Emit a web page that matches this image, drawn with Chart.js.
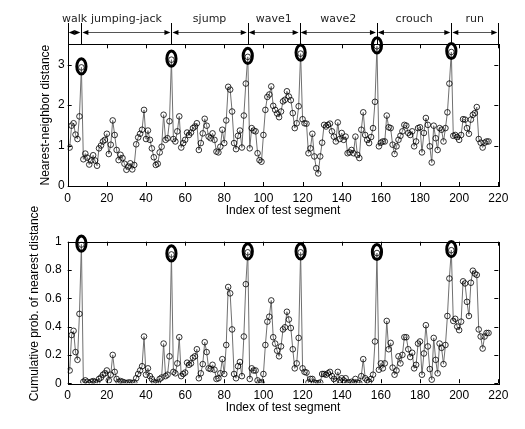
<!DOCTYPE html>
<html>
<head>
<meta charset="utf-8">
<script src="https://cdn.jsdelivr.net/npm/chart.js@4/dist/chart.umd.min.js"></script>
<style>
  body { margin: 0; background: #fff; }
  #wrap { position: relative; width: 525px; height: 429px; overflow: hidden; }
  canvas { position: absolute; left: 0; }
  #topChart { top: 0; }
  #bottomChart { top: 200px; }
</style>
</head>
<body>
<div id="wrap">
  <canvas id="topChart" width="525" height="222"></canvas>
  <canvas id="bottomChart" width="525" height="229"></canvas>
</div>
<script>
// ----- data (index 1..215) -----
const nnDist = [
  0.95, 1.49, 1.55, 1.27, 1.16, 1.72, 2.93, 0.66, 0.80, 0.70,
  0.53, 0.63, 0.76, 0.63, 0.50, 0.93, 1.00, 1.10, 1.14, 1.29,
  0.79, 1.02, 1.62, 1.26, 0.89, 0.64, 0.77, 0.69, 0.55, 0.40,
  0.48, 0.56, 0.41, 0.52, 1.03, 1.20, 1.29, 1.39, 1.88, 1.16,
  1.37, 1.14, 0.93, 0.71, 0.52, 0.55, 0.83, 0.97, 1.76, 1.14,
  1.18, 1.60, 3.12, 1.16, 1.10, 1.35, 1.72, 0.95, 1.06, 1.14,
  1.32, 1.26, 1.32, 1.43, 1.47, 1.55, 0.89, 1.06, 1.30, 1.66,
  1.49, 1.22, 1.18, 1.30, 1.14, 0.85, 0.83, 0.97, 1.39, 1.06,
  1.62, 2.45, 2.38, 1.84, 1.06, 0.91, 1.24, 1.37, 0.95, 1.74,
  2.53, 3.19, 0.93, 1.43, 1.37, 1.35, 0.81, 0.64, 0.60, 1.26,
  1.88, 2.20, 2.26, 2.46, 1.98, 1.88, 1.79, 1.70, 1.84, 2.09,
  2.13, 2.34, 2.21, 2.12, 1.80, 1.43, 1.55, 1.97, 3.27, 1.65,
  1.55, 1.54, 0.81, 0.93, 1.29, 0.73, 0.44, 0.31, 0.73, 1.07,
  1.51, 1.47, 1.51, 1.54, 1.35, 1.22, 1.10, 1.57, 1.16, 1.31,
  1.14, 1.22, 0.81, 0.83, 0.89, 0.81, 1.22, 0.77, 0.69, 1.39,
  1.82, 1.26, 1.14, 1.06, 1.21, 1.43, 2.08, 3.45, 0.98, 1.07,
  1.10, 1.10, 1.74, 1.45, 1.43, 1.02, 0.79, 0.98, 1.14, 1.24,
  1.35, 1.51, 1.49, 1.31, 1.26, 1.35, 0.98, 1.10, 1.43, 1.45,
  0.83, 1.31, 1.68, 1.51, 0.98, 0.58, 1.49, 1.18, 0.89, 1.43,
  1.39, 1.10, 1.43, 1.82, 2.53, 3.31, 1.24, 1.26, 1.21, 1.14,
  1.26, 1.65, 1.64, 1.43, 1.29, 1.64, 1.76, 1.80, 1.95, 1.16,
  1.07, 0.95, 1.07, 1.10, 1.10
];

const cumProb = [
  0.09, 0.34, 0.37, 0.22, 0.165, 0.49, 0.98, 0.01, 0.02, 0.01,
  0.0, 0.01, 0.015, 0.01, 0.005, 0.03, 0.04, 0.06, 0.07, 0.09,
  0.02, 0.06, 0.20, 0.08, 0.03, 0.01, 0.015, 0.01, 0.005, 0.0,
  0.005, 0.005, 0.0, 0.005, 0.035, 0.065, 0.09, 0.12, 0.33, 0.06,
  0.105, 0.05, 0.03, 0.01, 0.0, 0.005, 0.03, 0.04, 0.28, 0.05,
  0.06, 0.19, 0.91, 0.08, 0.07, 0.14, 0.325, 0.05, 0.065, 0.075,
  0.145, 0.13, 0.14, 0.18, 0.19, 0.24, 0.035, 0.07, 0.135, 0.29,
  0.22, 0.105, 0.10, 0.13, 0.095, 0.03, 0.035, 0.07, 0.17, 0.065,
  0.27, 0.68, 0.635, 0.38, 0.065, 0.035, 0.12, 0.15, 0.05, 0.33,
  0.70, 0.925, 0.03, 0.105, 0.09, 0.09, 0.02, 0.005, 0.005, 0.065,
  0.27, 0.435, 0.47, 0.585, 0.325, 0.28, 0.23, 0.19, 0.26, 0.38,
  0.395, 0.505, 0.45, 0.39, 0.24, 0.105, 0.14, 0.32, 0.925, 0.105,
  0.08, 0.075, 0.005, 0.03, 0.03, 0.005, 0.0, 0.0, 0.005, 0.065,
  0.065, 0.06, 0.07, 0.08, 0.05, 0.03, 0.015, 0.08, 0.02, 0.035,
  0.02, 0.035, 0.005, 0.005, 0.01, 0.005, 0.03, 0.005, 0.0, 0.05,
  0.17, 0.035, 0.02, 0.01, 0.03, 0.06, 0.295, 0.92, 0.095, 0.14,
  0.105, 0.14, 0.44, 0.24, 0.285, 0.11, 0.06, 0.09, 0.19, 0.14,
  0.20, 0.325, 0.325, 0.24, 0.185, 0.215, 0.105, 0.13, 0.28, 0.295,
  0.06, 0.21, 0.41, 0.26, 0.10, 0.025, 0.32, 0.165, 0.07, 0.28,
  0.25, 0.135, 0.27, 0.475, 0.74, 0.94, 0.44, 0.455, 0.40, 0.375,
  0.435, 0.72, 0.705, 0.575, 0.475, 0.71, 0.795, 0.775, 0.765, 0.38,
  0.33, 0.245, 0.33, 0.355, 0.355
];

const peakIdx = [7, 53, 92, 119, 158, 196];

const segLabels = ['walk', 'jumping-jack', 'sjump', 'wave1', 'wave2', 'crouch', 'run'];
const segBounds = [0, 7, 53, 92, 118.5, 158, 196, 220];

const xTicks = [0, 20, 40, 60, 80, 100, 120, 140, 160, 180, 200, 220];
const yTicksTop = [0, 1, 2, 3];
const yTicksBottom = [0, 0.2, 0.4, 0.6, 0.8, 1];

// ----- helpers -----
const FONT = 'Liberation Sans, Arial, sans-serif';

function toPoints(vals) {
  return vals.map((v, i) => ({ x: i + 1, y: v }));
}

// frame + inward tick marks on all four sides (matlab style)
const frameTicks = {
  id: 'frameTicks',
  afterDraw(chart) {
    const { ctx, chartArea: a, scales } = chart;
    const len = 4;
    ctx.save();
    ctx.strokeStyle = '#000';
    ctx.lineWidth = 1;
    ctx.beginPath();
    scales.x.ticks.forEach(t => {
      const px = Math.round(scales.x.getPixelForValue(t.value)) + 0.5;
      ctx.moveTo(px, a.bottom); ctx.lineTo(px, a.bottom - len);
      ctx.moveTo(px, a.top); ctx.lineTo(px, a.top + len);
    });
    scales.y.ticks.forEach(t => {
      const py = Math.round(scales.y.getPixelForValue(t.value)) + 0.5;
      ctx.moveTo(a.left, py); ctx.lineTo(a.left + len, py);
      ctx.moveTo(a.right, py); ctx.lineTo(a.right - len, py);
    });
    ctx.stroke();
    ctx.strokeRect(Math.round(a.left) + 0.5, Math.round(a.top) + 0.5,
      Math.round(a.right - a.left), Math.round(a.bottom - a.top));
    ctx.restore();
  }
};

// thick ovals round the peak points
const peakRings = {
  id: 'peakRings',
  afterDatasetsDraw(chart) {
    const { ctx, scales } = chart;
    const vals = chart.data.datasets[0].data;
    ctx.save();
    ctx.strokeStyle = '#000';
    ctx.lineWidth = 3;
    peakIdx.forEach(i => {
      const p = vals[i - 1];
      const px = scales.x.getPixelForValue(p.x);
      const py = scales.y.getPixelForValue(p.y);
      ctx.beginPath();
      ctx.ellipse(px, py - 1, 4.6, 7.6, 0, 0, Math.PI * 2);
      ctx.stroke();
    });
    ctx.restore();
  }
};

// rotated y title (drawn by hand so it is not squeezed to the axis height)
const yTitle = {
  id: 'yTitle',
  afterDraw(chart, args, opts) {
    const { ctx, chartArea: a } = chart;
    ctx.save();
    ctx.translate(opts.x, (a.top + a.bottom) / 2 + opts.dy);
    ctx.rotate(-Math.PI / 2);
    ctx.font = '12px ' + FONT;
    ctx.fillStyle = '#000';
    ctx.textAlign = 'center';
    ctx.textBaseline = 'middle';
    ctx.fillText(opts.text, 0, 0);
    ctx.restore();
  }
};

// activity segments with double arrows above the top plot
const segments = {
  id: 'segments',
  afterDraw(chart) {
    const { ctx, chartArea: a, scales } = chart;
    const xs = segBounds.map(b => scales.x.getPixelForValue(b));
    const yArrow = 32.5;
    ctx.save();
    ctx.strokeStyle = '#000';
    ctx.lineWidth = 1;
    ctx.beginPath();
    xs.forEach(px => {
      const x = Math.round(px) + 0.5;
      ctx.moveTo(x, 23); ctx.lineTo(x, a.top);
    });
    ctx.stroke();

    ctx.font = '11px DejaVu Sans, Verdana, sans-serif';
    ctx.textAlign = 'center';
    ctx.textBaseline = 'middle';
    for (let i = 0; i < segLabels.length; i++) {
      const x0 = xs[i] + 1, x1 = xs[i + 1] - 1;
      ctx.strokeStyle = '#555';
      ctx.beginPath();
      ctx.moveTo(x0 + 4, yArrow); ctx.lineTo(x1 - 4, yArrow);
      ctx.stroke();
      ctx.fillStyle = '#000';
      ctx.beginPath();
      ctx.moveTo(x0, yArrow); ctx.lineTo(x0 + 6, yArrow - 2.5); ctx.lineTo(x0 + 6, yArrow + 2.5);
      ctx.closePath(); ctx.fill();
      ctx.beginPath();
      ctx.moveTo(x1, yArrow); ctx.lineTo(x1 - 6, yArrow - 2.5); ctx.lineTo(x1 - 6, yArrow + 2.5);
      ctx.closePath(); ctx.fill();
      ctx.fillStyle = '#222';
      ctx.fillText(segLabels[i], (xs[i] + xs[i + 1]) / 2, 19);
    }
    ctx.restore();
  }
};

function makeOptions(yTicks, yMax, pad, title, tickPad) {
  return {
    responsive: false,
    animation: false,
    events: [],
    layout: { padding: pad },
    plugins: {
      legend: { display: false },
      tooltip: { enabled: false },
      yTitle: title
    },
    scales: {
      x: {
        type: 'linear',
        min: xTicks[0],
        max: xTicks[xTicks.length - 1],
        afterFit: s => { s.height = 36; },
        grid: { display: false, drawTicks: false },
        border: { display: false },
        ticks: { color: '#000', padding: 5, maxRotation: 0, autoSkip: false,
                 stepSize: xTicks[1] - xTicks[0],
                 font: { family: FONT, size: 12 } },
        title: { display: true, text: 'Index of test segment', color: '#000', padding: 4,
                 font: { family: FONT, size: 12 } }
      },
      y: {
        type: 'linear',
        min: yTicks[0],
        max: yMax,
        afterFit: s => { s.width = 32.7; },
        grid: { display: false, drawTicks: false },
        border: { display: false },
        ticks: { color: '#000', padding: tickPad, autoSkip: false, includeBounds: false,
                 stepSize: yTicks[1] - yTicks[0],
                 format: { minimumFractionDigits: 0, maximumFractionDigits: 2 },
                 font: { family: FONT, size: 12 } }
      }
    }
  };
}

function makeDataset(vals) {
  return {
    data: toPoints(vals),
    borderColor: '#707070',
    borderWidth: 1,
    pointRadius: 2.8,
    pointBorderColor: '#000',
    pointBorderWidth: 0.8,
    pointBackgroundColor: 'rgba(0,0,0,0)',
    tension: 0
  };
}

new Chart(document.getElementById('topChart'), {
  type: 'line',
  data: { datasets: [makeDataset(nnDist)] },
  options: makeOptions(yTicksTop, 3.5, { top: 44.3, right: 26.7, left: 35, bottom: 0 },
    { text: 'Nearest-neighbor distance', x: 46, dy: 0 }, 3),
  plugins: [frameTicks, peakRings, yTitle, segments]
});

new Chart(document.getElementById('bottomChart'), {
  type: 'line',
  data: { datasets: [makeDataset(cumProb)] },
  options: makeOptions(yTicksBottom, yTicksBottom[yTicksBottom.length - 1],
    { top: 41.7, right: 26.7, left: 35, bottom: 9.8 },
    { text: 'Cumulative prob. of nearest distance', x: 35, dy: -9 }, 6),
  plugins: [frameTicks, peakRings, yTitle]
});
</script>
</body>
</html>
